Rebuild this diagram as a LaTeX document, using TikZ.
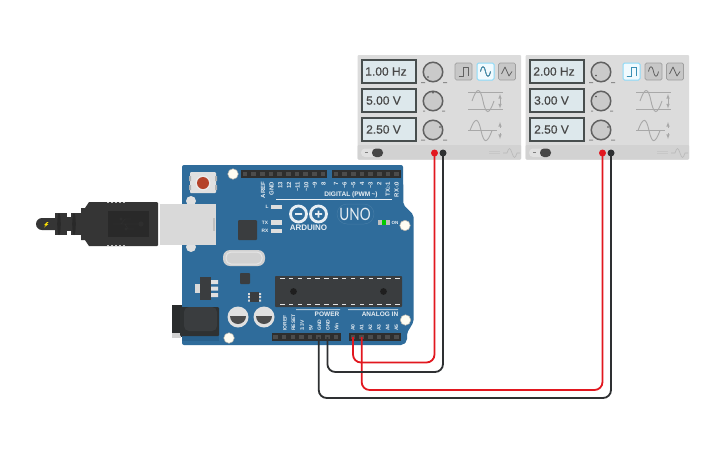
\documentclass[tikz,border=0pt]{standalone}
\usepackage{fontspec}
\setmainfont{Liberation Sans}
\newfontfamily\unofont[FakeStretch=0.8]{Lato}
\newfontfamily\lcdfont[FakeBold=0.5]{Liberation Sans}
\definecolor{board}{HTML}{2F6C9B}
\definecolor{boarddark}{HTML}{28608C}
\definecolor{panel}{HTML}{DCDCDC}
\definecolor{strip}{HTML}{D2D2D2}
\definecolor{lcd}{HTML}{DDE8EC}
\definecolor{lcdedge}{HTML}{484E4E}
\definecolor{wirered}{HTML}{E2171F}
\definecolor{wireblack}{HTML}{2E3032}
\definecolor{chip}{HTML}{3A3D3F}
\definecolor{header}{HTML}{2E2E2E}
\definecolor{hole}{HTML}{FFFDF2}
\definecolor{silk}{HTML}{E8EEF3}
\definecolor{usbbody}{HTML}{353535}
\definecolor{usbdark}{HTML}{292929}
\definecolor{metal}{HTML}{D9D9D9}
\definecolor{resetred}{HTML}{B5432A}
\tikzset{
  lcdbox/.style={draw=lcdedge,line width=1.9pt,fill=lcd,minimum width=54pt,minimum height=23pt,inner sep=0pt,font=\lcdfont\fontsize{12}{12}\selectfont,text=black!72},
  knobshape/.style={circle,draw=black!62,line width=1.5pt,fill=panel!92!black,minimum size=19.5pt,inner sep=0pt},
  wavebtn/.style={draw=black!38,line width=.7pt,fill=black!22,rounded corners=1.5pt,minimum size=17pt,inner sep=0pt},
  wavebtnon/.style={draw=cyan!45,line width=1pt,fill=cyan!6,rounded corners=1.5pt,minimum size=17pt,inner sep=0pt},
  icon/.style={black!62,line width=.8pt,line join=round},
  iconon/.style={cyan!70!black,line width=.8pt,line join=round},
  hint/.style={black!34,line width=.6pt},
  terminal/.style={circle,minimum size=7pt,inner sep=0pt},
  wire/.style={line width=1.8pt,rounded corners=8pt,line join=round},
  pinhole/.style={fill=black!70,minimum width=4.6pt,minimum height=4.8pt,inner sep=0pt},
  silktext/.style={text=silk,inner sep=0pt,font=\bfseries\fontsize{5}{5}\selectfont},
  pinlabel/.style={text=silk,inner sep=0pt,rotate=90,font=\bfseries\fontsize{6}{6}\selectfont},
  mount/.style={circle,fill=hole,draw=hole!70!black,line width=.5pt,minimum size=10.5pt,inner sep=0pt},
  ledbox/.style={fill=black!13,minimum width=11pt,minimum height=4.5pt,inner sep=0pt},
  capbody/.style={circle,fill=black!12,minimum size=21pt,inner sep=0pt},
}
% #1 x offset, #2 prefix, #3 freq, #4 amp, #5 dc, #6/#7/#8 button styles
\newcommand{\fgen}[8]{%
\begin{scope}[xshift=#1pt]
  \fill[panel,rounded corners=1pt] (357.5,55) rectangle (521,159.5);
  \fill[strip,rounded corners=1pt] (357.5,145) rectangle (521,159.5);
  \node[lcdbox] (#2freq) at (389,71.5) {\hspace*{-6pt}#3};
  \node[lcdbox] (#2amp) at (389,100.5) {\hspace*{-11pt}#4};
  \node[lcdbox] (#2dc) at (389,129.5) {\hspace*{-11pt}#5};
  \node[knobshape] (#2ka) at (433,72) {};
  \node[knobshape] (#2kb) at (433,101) {};
  \node[knobshape] (#2kc) at (433,130) {};
  \node[#6] (#2btnsq) at (463.5,71.5) {};
  \node[#7] (#2btnsin) at (485.5,71.5) {};
  \node[#8] (#2btntri) at (507,71.5) {};
  % wave glyphs
  \draw[icon] (458.5,76) -- (463,76) -- (463,67) -- (468.5,67) -- (468.5,76);
  \draw[icon] (480.5,71.5) .. controls (482,65) and (484,65) .. (485.5,71.5) .. controls (487,78) and (489,78) .. (490.5,71.5);
  \draw[icon] (501.5,74) -- (505,67) -- (509,76) -- (512,71.5);
  % amplitude hint
  \draw[hint] (468,92.7) -- (503,92.7) (468,109.5) -- (503,109.5);
  \draw[hint,line width=.9pt] (472,101) .. controls (477,87) and (480,87) .. (483,101) .. controls (486,115) and (489,115) .. (494,101);
  \draw[hint,<->,>=latex] (500,94) -- (500,108.5);
  % dc hint
  \draw[hint] (468,130.5) -- (497,130.5);
  \draw[hint,line width=.9pt] (470,130.5) .. controls (475,117) and (478,117) .. (481,130.5) .. controls (484,144) and (487,144) .. (492,130.5);
  \draw[hint,<-,>=latex] (500,122) -- (500,128);
  \draw[hint,->,>=latex] (500,133) -- (500,139);
  % small marks under the knobs
  \fill[black!45] (421,82) rectangle (425,83) (443,82) rectangle (447,83) (423,110.5) rectangle (425,111.5) (442,110.5) rectangle (445,111.5) (421,139.5) rectangle (425,140.5) (443,139.5) rectangle (447,140.5);
  % power switch
  \fill[black!12,rounded corners=4pt] (361,148.5) rectangle (383,157);
  \fill[black!72,rounded corners=4pt] (372,148.5) rectangle (383,157);
  \fill[black!50] (365,152.2) rectangle (368,153.3);
  % brand
  \draw[black!22,line width=.5pt] (489,151) -- (500,151) (489,153.5) -- (500,153.5);
  \draw[black!28,line width=.6pt] (503,153) -- (507,153) .. controls (509,147) and (510,147) .. (512,153) .. controls (514,159) and (515,159) .. (517,153) -- (520,153);
\end{scope}}
\begin{document}
\begin{tikzpicture}[x=1pt,y=-1pt]
\useasboundingbox (0,0) rectangle (725,453);
\fill[white] (0,0) rectangle (725,453);
% generators
\fgen{0}{ga}{1.00 Hz}{5.00 V}{2.50 V}{wavebtn}{wavebtnon}{wavebtn}
\fgen{168}{gb}{2.00 Hz}{3.00 V}{2.50 V}{wavebtnon}{wavebtn}{wavebtn}
% knob pointers
\fill[black!70] (428,77) circle (.9) (433,92.8) circle (.9) (440,127) circle (.9) (596,75.5) circle (.9) (596,96.5) circle (.9) (608,127) circle (.9);
% active glyph recolour
\draw[iconon] (480.5,71.5) .. controls (482,65) and (484,65) .. (485.5,71.5) .. controls (487,78) and (489,78) .. (490.5,71.5);
\draw[iconon] (626.5,76) -- (631,76) -- (631,67) -- (636.5,67) -- (636.5,76);
% board
\fill[board,rounded corners=2pt] (182,165) -- (403,165) -- (403.5,205) -- (413.5,215) -- (413.5,322) -- (407,333) -- (407,341) -- (403,345) -- (182,345) -- cycle;
% reset button
\fill[black!12,rounded corners=1pt] (190,172) rectangle (216,193);
\fill[black!30] (189,176) rectangle (191,181) (189,185) rectangle (191,190) (215,176) rectangle (217,181) (215,185) rectangle (217,190);
\node[circle,fill=black!8,minimum size=15pt,inner sep=0pt] (resetring) at (203,183) {};
\node[circle,fill=resetred,minimum size=12pt,inner sep=0pt] (resetcap) at (203,183) {};
% USB connector
\fill[black!12] (191,201) circle (5) (191,247) circle (5);
\fill[metal] (160,204) rectangle (216,245);
\fill[black!25] (213,218) rectangle (215,231);
\fill[usbbody] (81,208) -- (85,208) -- (89,202) -- (157,202) -- (158,203) -- (158,245) -- (157,246) -- (89,246) -- (85,240) -- (81,240) -- cycle;
\foreach \i in {0,...,4} {\fill[white!70!usbbody] ({107+\i*4},202) rectangle ({109+\i*4},203); \fill[white!70!usbbody] ({107+\i*4},245) rectangle ({109+\i*4},246);}
\fill[usbdark] (108,211) rectangle (149,237);
\draw[black!82,line width=.7pt] (113,224) -- (141,224) (121,224) -- (125,219) -- (131,219) (125,224) -- (128,229) -- (134,229);
\fill[black!82] (141,224) circle (2.6) (121,219) circle (1.6) (126,229) circle (1.6);
\fill[usbbody] (55,213) rectangle (67,235);
\fill[usbbody] (67,217) rectangle (71,231);
\fill[usbbody] (71,213) rectangle (81,235);
\fill[usbdark] (59,224) ellipse (1.8 and 11) (74,224) ellipse (1.8 and 11);
\fill[usbbody] (55,218) -- (42,218) arc (270:90:6) -- (55,230) -- cycle;
\fill[yellow!85!orange] (47,222) -- (44,225) -- (46,225) -- (44,227.5) -- (48.5,224) -- (46.5,224) -- (48.5,222) -- cycle;
% headers top
\fill[header] (240.5,170) rectangle (327,177.5);
\fill[header] (332,170) rectangle (400.5,177.5);
\foreach \i in {0,...,9} \node[pinhole] (ptop\i) at ({245+\i*8.65},174) {};
\foreach \i in {0,...,7} \node[pinhole] (qtop\i) at ({336+\i*8.65},174) {};
% top labels
\foreach \t [count=\i from 0] in {AREF,GND,13,12,{\char`~11},{\char`~10},{\char`~9},8}
  \node[pinlabel,anchor=east] (tl\i) at ({263+\i*8.65},181.5) {\t};
\foreach \t [count=\i from 0] in {7,{\char`~6},{\char`~5},4,{\char`~3},2,{TX$\triangleright$1},{RX$\triangleleft$0}}
  \node[pinlabel,anchor=east] (tm\i) at ({336+\i*8.65},181.5) {\t};
\node[silktext,font=\bfseries\fontsize{6.6}{7}\selectfont] (digital) at (351,195) {DIGITAL (PWM\,\char`~)};
\fill[silk] (276,199.2) rectangle (392,200);
% ICSP chip
\fill[chip,rounded corners=1pt] (238,220) rectangle (257,240);
% LEDs
\node[ledbox] (ledl) at (276.5,207) {};
\node[ledbox] (ledtx) at (276.5,222.5) {};
\node[ledbox] (ledrx) at (276.5,231) {};
\node[silktext,font=\bfseries\fontsize{4.8}{5}\selectfont] (lbll) at (267,207) {L};
\node[silktext,font=\bfseries\fontsize{4.8}{5}\selectfont] (lbltx) at (265,222.5) {TX};
\node[silktext,font=\bfseries\fontsize{4.8}{5}\selectfont] (lblrx) at (265,231) {RX};
% logo
\draw[silk,line width=2.8pt] (298.5,214) circle (8) (318.5,214) circle (8);
\fill[silk] (295,213.2) rectangle (302,214.8) (315,213.2) rectangle (322,214.8) (317.7,210.5) rectangle (319.3,217.5);
\node[silktext,font=\bfseries\fontsize{8}{8}\selectfont] (ardlabel) at (308.5,228) {ARDUINO};
\draw[board!90!white,line width=.5pt] (347,204) -- (364,204) arc (-90:90:10) -- (347,224) arc (90:270:10);
\node[text=silk,inner sep=0pt,font=\unofont\fontsize{17}{17}\selectfont] (unolabel) at (355,214) {UNO};
% ON led
\node[ledbox,minimum width=12pt,fill=black!25] (ledon) at (384,222.7) {};
\node[fill=green!80!black,minimum width=4pt,minimum height=4.5pt,inner sep=0pt] (ledongreen) at (384,222.7) {};
\node[silktext,font=\bfseries\fontsize{4.5}{5}\selectfont] (lblon) at (395,222.7) {ON};
% crystal
\node[rounded corners=7pt,fill=black!18,minimum width=42pt,minimum height=16pt,inner sep=0pt] (xtal) at (244,258) {};
\draw[black!10,rounded corners=5pt,line width=1pt] (226,252) rectangle (262,264);
% regulator etc.
\fill[black!15] (195,284) rectangle (200,293);
\fill[black!12] (211,280) rectangle (218,284) (211,286.5) rectangle (218,290.5) (211,293) rectangle (218,297);
\fill[chip] (200,277) rectangle (211,300);
\fill[chip,rounded corners=.8pt] (240,273) rectangle (250,284);
\fill[black!15] (248,293) rectangle (261,295) (248,296) rectangle (261,298) (248,299.5) rectangle (261,301.5);
\fill[chip] (250,292) rectangle (259,302);
% barrel jack
\fill[boarddark] (182,330) rectangle (219,341);
\fill[chip!70!black] (172,305) rectangle (182,337);
\fill[black!18] (172,333) rectangle (181,338);
\fill[chip!80!black,rounded corners=1pt] (180,307) rectangle (219,336);
\fill[chip,rounded corners=5pt] (184,307) rectangle (217,331);
% capacitors
\foreach \n/\x in {capa/238,capb/264}{
  \node[capbody] (\n) at (\x,317) {};
  \fill[black!70] (\x-8,316) arc (180:0:8) -- cycle;
}
% MCU
\fill[chip,rounded corners=.8pt] (275,276) rectangle (402,307);
\foreach \i in {0,...,13} {
  \fill[black!10] ({280+\i*8.85},277.6) rectangle ({284.5+\i*8.85},279);
  \fill[black!10] ({280+\i*8.85},304) rectangle ({284.5+\i*8.85},305.4);
}
\fill[black!88] (293.5,291.5) circle (3.4) (383.5,291.5) circle (3.4);
% power / analog labels
\fill[silk!70!board] (296,309) rectangle (340,310) (348,309) rectangle (398,310);
\node[silktext,font=\bfseries\fontsize{6.5}{7}\selectfont] (lblpower) at (327,314.5) {POWER};
\node[silktext,font=\bfseries\fontsize{6.5}{7}\selectfont] (lblanalog) at (380,314.5) {ANALOG IN};
\foreach \t/\x/\n in {IOREF/285/a,RESET/293.5/b,3.3V/302.2/c,5V/311/d,GND/319.5/e,GND/328/f,Vin/336.5/g,A0/353/h,A1/361.7/i,A2/370.4/j,A3/379/k,A4/387.7/l,A5/396.4/m}
  \node[pinlabel,anchor=west,font=\bfseries\fontsize{5}{5}\selectfont] (bl\n) at (\x,331) {\t};
% bottom headers
\fill[header] (271.5,333) rectangle (341,341);
\fill[header] (348.5,333) rectangle (401,341);
\foreach \i in {0,...,7} \node[pinhole] (ppow\i) at ({275.5+\i*8.65},337) {};
\foreach \i in {0,...,5} \node[pinhole] (pana\i) at ({353+\i*8.65},337) {};
% mounting holes
\node[mount] (mh1) at (233,174) {};
\node[mount] (mh2) at (405,225.5) {};
\node[mount] (mh3) at (405.5,320) {};
\node[mount] (mh4) at (229,338) {};
% terminals
\node[terminal,fill=wirered] (gapos) at (434.5,153) {};
\node[terminal,fill=wireblack] (ganeg) at (443,153) {};
\node[terminal,fill=wirered] (gbpos) at (602.5,153) {};
\node[terminal,fill=wireblack] (gbneg) at (611,153) {};
% wires
\coordinate (rta) at (434.5,362.5);
\coordinate (rtb) at (602.5,390);
\coordinate (rtc) at (611,398);
\coordinate (rtd) at (443,372);
\draw[wire,wirered] (pana0.center) |- (rta) -- (gapos.center);
\draw[wire,wirered] (pana1.center) |- (rtb) -- (gbpos.center);
\draw[wire,wireblack] (ppow5.center) |- (rtc) -- (gbneg.center);
\draw[wire,wireblack] (ppow6.center) |- (rtd) -- (ganeg.center);
\end{tikzpicture}
\end{document}
